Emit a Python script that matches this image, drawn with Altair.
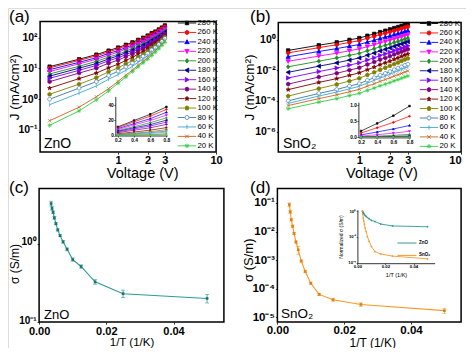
import math
import altair as alt
import pandas as pd

# ---------------------------------------------------------------- data
TEMPS = [280, 260, 240, 220, 200, 180, 160, 140, 120, 100, 80, 60, 40, 20]
VOLTS = [0.2, 0.4, 0.6, 0.8, 1.0, 1.2, 1.4, 1.6, 1.8, 2.0, 2.2, 2.4, 2.6, 2.8, 3.0]

# (a) ZnO: log10 of J (mA/cm^2) at each voltage, one list per temperature
ZNO_280 = [1.06, 1.30, 1.45, 1.58, 1.68, 1.77, 1.85, 1.93, 2.00, 2.07, 2.15, 2.20, 2.27, 2.33, 2.40]
ZNO_260 = [1.02, 1.26, 1.41, 1.54, 1.64, 1.73, 1.81, 1.89, 1.96, 2.03, 2.11, 2.16, 2.23, 2.29, 2.36]
ZNO_240 = [0.96, 1.20, 1.35, 1.49, 1.58, 1.68, 1.76, 1.84, 1.91, 1.97, 2.05, 2.11, 2.18, 2.24, 2.31]
ZNO_220 = [0.90, 1.15, 1.30, 1.43, 1.53, 1.63, 1.71, 1.79, 1.86, 1.93, 2.01, 2.06, 2.13, 2.20, 2.27]
ZNO_200 = [0.82, 1.07, 1.23, 1.37, 1.46, 1.56, 1.65, 1.73, 1.80, 1.87, 1.95, 2.01, 2.08, 2.15, 2.22]
ZNO_180 = [0.75, 1.01, 1.16, 1.31, 1.41, 1.51, 1.59, 1.68, 1.75, 1.82, 1.91, 1.97, 2.04, 2.11, 2.18]
ZNO_160 = [0.68, 0.94, 1.10, 1.25, 1.35, 1.45, 1.54, 1.63, 1.70, 1.78, 1.86, 1.92, 1.99, 2.07, 2.14]
ZNO_140 = [0.57, 0.85, 1.01, 1.17, 1.27, 1.38, 1.47, 1.56, 1.64, 1.72, 1.81, 1.87, 1.95, 2.02, 2.10]
ZNO_120 = [0.36, 0.67, 0.85, 1.02, 1.14, 1.26, 1.36, 1.47, 1.55, 1.64, 1.74, 1.81, 1.89, 1.98, 2.06]
ZNO_100 = [0.16, 0.49, 0.70, 0.89, 1.02, 1.15, 1.26, 1.37, 1.46, 1.56, 1.67, 1.74, 1.83, 1.93, 2.02]
ZNO_80 = [0.00, 0.36, 0.57, 0.77, 0.91, 1.05, 1.17, 1.29, 1.39, 1.49, 1.60, 1.68, 1.78, 1.88, 1.98]
ZNO_60 = [-0.18, 0.20, 0.43, 0.65, 0.80, 0.94, 1.07, 1.20, 1.30, 1.41, 1.54, 1.62, 1.73, 1.83, 1.94]
ZNO_40 = [-0.70, -0.26, 0.08, 0.34, 0.58, 0.78, 0.95, 1.10, 1.23, 1.35, 1.47, 1.58, 1.68, 1.79, 1.89]
ZNO_20 = [-0.85, -0.38, -0.02, 0.27, 0.52, 0.72, 0.90, 1.05, 1.18, 1.30, 1.42, 1.53, 1.64, 1.75, 1.85]

# (b) SnO2: log10 of J (mA/cm^2)
SNO2_280 = [-0.70, -0.36, -0.17, -0.01, 0.11, 0.26, 0.38, 0.50, 0.59, 0.68, 0.76, 0.83, 0.90, 0.97, 1.02]
SNO2_260 = [-0.86, -0.52, -0.33, -0.18, -0.06, 0.10, 0.22, 0.34, 0.42, 0.51, 0.59, 0.66, 0.73, 0.80, 0.85]
SNO2_240 = [-1.11, -0.77, -0.58, -0.43, -0.31, -0.16, -0.04, 0.08, 0.17, 0.25, 0.34, 0.40, 0.47, 0.54, 0.59]
SNO2_220 = [-1.41, -1.07, -0.88, -0.72, -0.60, -0.45, -0.33, -0.21, -0.12, -0.03, 0.05, 0.12, 0.19, 0.26, 0.31]
SNO2_200 = [-1.77, -1.40, -1.19, -1.02, -0.89, -0.72, -0.59, -0.46, -0.37, -0.27, -0.18, -0.11, -0.03, 0.04, 0.10]
SNO2_180 = [-2.13, -1.73, -1.51, -1.33, -1.19, -1.01, -0.87, -0.73, -0.63, -0.53, -0.43, -0.35, -0.27, -0.19, -0.13]
SNO2_160 = [-2.50, -2.08, -1.85, -1.66, -1.51, -1.32, -1.18, -1.03, -0.92, -0.82, -0.71, -0.63, -0.55, -0.46, -0.40]
SNO2_140 = [-2.90, -2.44, -2.19, -1.99, -1.83, -1.62, -1.46, -1.30, -1.19, -1.08, -0.96, -0.87, -0.78, -0.69, -0.62]
SNO2_120 = [-3.26, -2.79, -2.54, -2.33, -2.16, -1.96, -1.79, -1.63, -1.51, -1.40, -1.28, -1.19, -1.09, -1.00, -0.93]
SNO2_100 = [-3.68, -3.19, -2.92, -2.70, -2.52, -2.30, -2.13, -1.96, -1.83, -1.71, -1.59, -1.49, -1.39, -1.29, -1.22]
SNO2_80 = [-3.99, -3.51, -3.25, -3.03, -2.87, -2.65, -2.48, -2.32, -2.20, -2.08, -1.96, -1.86, -1.77, -1.67, -1.60]
SNO2_60 = [-4.16, -3.68, -3.42, -3.21, -3.04, -2.83, -2.66, -2.50, -2.38, -2.26, -2.14, -2.04, -1.95, -1.85, -1.78]
SNO2_40 = [-4.30, -3.85, -3.60, -3.40, -3.24, -3.03, -2.88, -2.72, -2.60, -2.49, -2.38, -2.29, -2.20, -2.11, -2.04]
SNO2_20 = [-4.51, -4.08, -3.85, -3.65, -3.50, -3.31, -3.16, -3.01, -2.90, -2.80, -2.69, -2.61, -2.52, -2.43, -2.37]

# (c), (d): conductivity (S/m) and error bars, in TEMPS order
SIGMA_ZNO = [3.23, 2.80, 2.50, 2.12, 1.79, 1.49, 1.26, 1.05, 0.845, 0.625, 0.51, 0.325, 0.23, 0.20]
SIGMA_ZNO_ERR = [0.22, 0.14, 0.10, 0.08, 0.06, 0.05, 0.04, 0.04, 0.035, 0.03, 0.025, 0.022, 0.025, 0.025]
SIGMA_SNO2 = [0.088, 0.049, 0.026, 0.0154, 0.0086, 0.0043, 0.0023, 9.3e-4, 4.0e-4, 1.55e-4, 6.3e-5, 4.1e-5, 2.8e-5, 1.7e-5]
SIGMA_SNO2_ERR = [0.012, 0.006, 0.003, 0.0015, 0.0008, 0.0004, 0.0007, 8e-5, 4e-5, 1.5e-5, 6e-6, 5e-6, 4e-6, 3.5e-6]

ZNO_LOGJ = [ZNO_280, ZNO_260, ZNO_240, ZNO_220, ZNO_200, ZNO_180, ZNO_160,
            ZNO_140, ZNO_120, ZNO_100, ZNO_80, ZNO_60, ZNO_40, ZNO_20]
SNO2_LOGJ = [SNO2_280, SNO2_260, SNO2_240, SNO2_220, SNO2_200, SNO2_180, SNO2_160,
             SNO2_140, SNO2_120, SNO2_100, SNO2_80, SNO2_60, SNO2_40, SNO2_20]
T_LABELS = [f"{t} K" for t in TEMPS]

# ---------------------------------------------------------------- style
FONT = "Liberation Sans"
W, H = 458, 340
COLORS = ["#000000", "#ff0000", "#0000ff", "#ff00ff", "#1f8f1f", "#000080", "#8000ff",
          "#800080", "#800000", "#808000", "#3a78b0", "#3fa6d3", "#c8641e", "#2fcf46"]
MARKERS = ["square", "circle", "tri_up", "tri_down", "diamond", "tri_left", "tri_right",
           "hexagon", "star", "pentagon", "open_circle", "bar", "cross_x", "asterisk"]
TEAL, TEAL_DARK = "#2a9c97", "#1f6f6b"
ORANGE, ORANGE_DARK = "#f59a2c", "#e07f12"


def _poly(pts, s):
    return "M" + "L".join(f"{x * s:.3f},{y * s:.3f}" for x, y in pts) + "Z"


def _circle(r):
    return f"M{r:.3f},0A{r:.3f},{r:.3f} 0 1 1 {-r:.3f},0A{r:.3f},{r:.3f} 0 1 1 {r:.3f},0Z"


STAR_PTS = [((1.0 if i % 2 == 0 else 0.42) * math.cos(-math.pi / 2 + i * math.pi / 5),
             (1.0 if i % 2 == 0 else 0.42) * math.sin(-math.pi / 2 + i * math.pi / 5)) for i in range(10)]
PENT_PTS = [(math.cos(-math.pi / 2 + i * 2 * math.pi / 5), math.sin(-math.pi / 2 + i * 2 * math.pi / 5)) for i in range(5)]
HEX_PTS = [(0.95 * math.cos(-math.pi / 2 + i * math.pi / 3), 0.95 * math.sin(-math.pi / 2 + i * math.pi / 3)) for i in range(6)]


def marker_path(kind, s):
    if kind == "square":
        return _poly([(-.8, -.8), (.8, -.8), (.8, .8), (-.8, .8)], s)
    if kind in ("circle", "open_circle"):
        return _circle(0.9 * s)
    if kind == "tri_up":
        return _poly([(0, -1), (1, .8), (-1, .8)], s)
    if kind == "tri_down":
        return _poly([(0, 1), (1, -.8), (-1, -.8)], s)
    if kind == "diamond":
        return _poly([(0, -1), (.8, 0), (0, 1), (-.8, 0)], s)
    if kind == "tri_left":
        return _poly([(-1, 0), (.8, -1), (.8, 1)], s)
    if kind == "tri_right":
        return _poly([(1, 0), (-.8, -1), (-.8, 1)], s)
    if kind == "hexagon":
        return _poly(HEX_PTS, s)
    if kind == "star":
        return _poly(STAR_PTS, s)
    if kind == "pentagon":
        return _poly(PENT_PTS, s)
    if kind == "bar":
        return f"M0,{-s:.3f}L0,{s:.3f}"
    if kind == "cross_x":
        a = 0.8 * s
        return f"M{-a:.3f},{-a:.3f}L{a:.3f},{a:.3f}M{-a:.3f},{a:.3f}L{a:.3f},{-a:.3f}"
    a, b = s, 0.7 * s
    return (f"M{-a:.3f},0L{a:.3f},0M0,{-a:.3f}L0,{a:.3f}"
            f"M{-b:.3f},{-b:.3f}L{b:.3f},{b:.3f}M{-b:.3f},{b:.3f}L{b:.3f},{-b:.3f}")


def legend_path(kind):
    if kind in ("bar", "cross_x", "asterisk"):
        line = "M-2.3,0L2.3,0"
    else:
        line = "M-2.3,0L-0.6,0M0.6,0L2.3,0"
    return line + marker_path(kind, 0.55)


def fill_of(kind, color):
    if kind == "open_circle":
        return "white"
    if kind in ("bar", "cross_x", "asterisk"):
        return "transparent"
    return color


FILLS = [fill_of(k, c) for k, c in zip(MARKERS, COLORS)]
PLOT_PATHS = [marker_path(k, 1.0) for k in MARKERS]
LEG_PATHS = [legend_path(k) for k in MARKERS]

SUP = {"-": "\u207b", "0": "\u2070", "1": "\u00b9", "2": "\u00b2", "3": "\u00b3", "4": "\u2074",
       "5": "\u2075", "6": "\u2076", "7": "\u2077", "8": "\u2078", "9": "\u2079"}


def pow_expr(exps):
    e = "round(log(datum.value) / LN10)"
    expr = "''"
    for k in exps:
        s = "10" + "".join(SUP[c] for c in str(k))
        expr = f"({e} == {k} ? '{s}' : {expr})"
    return expr


# ---------------------------------------------------------------- layout (chart px)
A_X, A_Y = (32.1, 208.1), (144.1, 13.4)
B_X, B_Y = (270.3, 453.1), (144.1, 14.4)
C_X, C_Y = (31.1, 215.9), (314.1, 180.6)
D_X, D_Y = (269.4, 453.1), (314.1, 180.6)
AI_X, AI_Y = (107.3, 159.2), (127.5, 88.4)
BI_X, BI_Y = (350.4, 402.3), (129.4, 94.1)
DI_X, DI_Y = (349.4, 426.6), (255.2, 201.7)

A_XD, A_YD = (0.16, 10), (10 ** -1.72, 10 ** 2.53)
B_XD, B_YD = (0.16, 10), (10 ** -7.34, 10 ** 1.13)
C_XD, C_YD = (0, 0.055), (0.1, 5)
D_XD, D_YD = (0, 0.055), (10 ** -5.17, 10 ** -0.496)
AI_XD, AI_YD = (0.168, 0.81), (0, 52)
BI_XD, BI_YD = (0.167, 0.81), (0, 1.1)
DI_XD, DI_YD = (0, 0.055), (10 ** -4.05, 10 ** 0.12)


def sc(dom, rng, log=False):
    if log:
        return alt.Scale(type="log", domain=list(dom), range=list(rng), nice=False)
    return alt.Scale(domain=list(dom), range=list(rng), nice=False, zero=False)


def ax_bottom(y_axis, values, size, title=None, tx=0, ty=0, tsize=12, expr=None, fmt=None,
              tick=2.0, pad=0.0, domain=False, tick_w=0.8, flush=False):
    kw = dict(orient="bottom", offset=y_axis - H, values=values, grid=False, domain=domain,
              domainColor="black", domainWidth=0.8, ticks=True, tickSize=tick, tickColor="black",
              tickWidth=tick_w, labelFont=FONT, labelFontSize=size, labelFontWeight="bold",
              labelColor="black", labelPadding=pad, labelOverlap=False, labelFlush=flush)
    if expr:
        kw["labelExpr"] = expr
    if fmt:
        kw["format"] = fmt
    if title:
        kw.update(title=title, titleFont=FONT, titleFontSize=tsize, titleFontWeight="normal",
                  titleColor="black", titleX=tx, titleY=ty - y_axis, titleAlign="center",
                  titleBaseline="middle", titleAngle=0)
    else:
        kw["title"] = None
    return alt.Axis(**kw)


def ax_left(x_axis, values, size, title=None, tx=0, ty=0, tsize=12, expr=None, fmt=None,
            tick=2.0, pad=1.0, domain=False, tick_w=0.8, loff=0.0):
    kw = dict(orient="left", offset=-x_axis, values=values, grid=False, domain=domain,
              domainColor="black", domainWidth=0.8, ticks=True, tickSize=tick, tickColor="black",
              tickWidth=tick_w, labelFont=FONT, labelFontSize=size, labelFontWeight="bold",
              labelColor="black", labelPadding=pad, labelOverlap=False, labelFlush=False,
              labelOffset=loff)
    if expr:
        kw["labelExpr"] = expr
    if fmt:
        kw["format"] = fmt
    if title:
        kw.update(title=title, titleFont=FONT, titleFontSize=tsize, titleFontWeight="normal",
                  titleColor="black", titleX=tx - x_axis, titleY=ty, titleAlign="center",
                  titleBaseline="middle", titleAngle=270)
    else:
        kw["title"] = None
    return alt.Axis(**kw)


ONE = pd.DataFrame({"k": [0]})


def text_layer(txt, x, y, size, weight="normal"):
    return alt.Chart(ONE).mark_text(text=txt, font=FONT, fontSize=size, fontWeight=weight,
                                    align="left", baseline="alphabetic", color="black"
                                    ).encode(x=alt.value(x), y=alt.value(y))


def frame_layer(xr, yr, width=1.5):
    return alt.Chart(ONE).mark_rect(fillOpacity=0, stroke="black", strokeWidth=width).encode(
        x=alt.value(xr[0]), x2=alt.value(xr[1]), y=alt.value(yr[1]), y2=alt.value(yr[0]))


def color_scale():
    return alt.Scale(domain=T_LABELS, range=COLORS)


def jv_frame(logs):
    rows = []
    for lab, arr in zip(T_LABELS, logs):
        for v, lj in zip(VOLTS, arr):
            rows.append({"T": lab, "V": v, "J": 10 ** lj})
    return pd.DataFrame(rows)


def jv_layers(df, xr, yr, xd, yd, log, xaxis, yaxis, psize, legend=None, lw=0.9):
    def X(ax):
        return alt.X("V:Q", scale=sc(xd, xr, log), axis=ax)

    def Y(ax):
        return alt.Y("J:Q", scale=sc(yd, yr, log), axis=ax)

    lines = alt.Chart(df).mark_line(strokeWidth=lw).encode(
        x=X(xaxis), y=Y(yaxis), color=alt.Color("T:N", scale=color_scale(), legend=None))
    pts = alt.Chart(df).mark_point(size=psize, strokeWidth=0.7, opacity=1).encode(
        x=X(None), y=Y(None),
        shape=alt.Shape("T:N", scale=alt.Scale(domain=T_LABELS, range=PLOT_PATHS), legend=None),
        fill=alt.Fill("T:N", scale=alt.Scale(domain=T_LABELS, range=FILLS), legend=None),
        stroke=alt.Stroke("T:N", scale=color_scale(), legend=None))
    out = [lines, pts]
    if legend is not None:
        leg_df = pd.DataFrame({"TL": T_LABELS, "V": [1.0] * len(T_LABELS), "J": [1e-30] * len(T_LABELS)})
        leg = alt.Chart(leg_df).mark_point(clip=True, opacity=1, strokeWidth=0.9).encode(
            x=X(None), y=Y(None),
            shape=alt.Shape("TL:N", scale=alt.Scale(domain=T_LABELS, range=LEG_PATHS), legend=legend),
            fill=alt.Fill("TL:N", scale=alt.Scale(domain=T_LABELS, range=FILLS), legend=legend),
            stroke=alt.Stroke("TL:N", scale=color_scale(), legend=legend))
        out.append(leg)
    return out


def jv_legend(x, y):
    return alt.Legend(orient="none", legendX=x, legendY=y, title=None, labelFont=FONT,
                      labelFontSize=7.8, labelColor="black", symbolSize=64, symbolStrokeWidth=0.9,
                      labelOffset=6, rowPadding=0.45, padding=0, labelLimit=80)


def sigma_layers(sig, err, xr, yr, xd, yd, color, dark, xaxis, yaxis):
    df = pd.DataFrame({"x": [1.0 / t for t in TEMPS], "s": sig,
                       "lo": [s - e for s, e in zip(sig, err)], "hi": [s + e for s, e in zip(sig, err)]})

    def X(ax):
        return alt.X("x:Q", scale=sc(xd, xr), axis=ax)

    def Y(f, ax):
        return alt.Y(f"{f}:Q", scale=sc(yd, yr, True), axis=ax)

    line = alt.Chart(df).mark_line(color=color, strokeWidth=1.1).encode(x=X(xaxis), y=Y("s", yaxis))
    bars = alt.Chart(df).mark_rule(color=color, strokeWidth=0.8).encode(
        x=X(None), y=Y("lo", None), y2="hi:Q")
    cap_lo = alt.Chart(df).mark_tick(orient="horizontal", size=4, thickness=0.8, color=color).encode(
        x=X(None), y=Y("lo", None))
    cap_hi = alt.Chart(df).mark_tick(orient="horizontal", size=4, thickness=0.8, color=color).encode(
        x=X(None), y=Y("hi", None))
    pts = alt.Chart(df).mark_point(shape="square", filled=True, size=7, color=dark, opacity=1).encode(
        x=X(None), y=Y("s", None))
    return [line, bars, cap_lo, cap_hi, pts]


# ---------------------------------------------------------------- panels
dfa = jv_frame(ZNO_LOGJ)
dfb = jv_frame(SNO2_LOGJ)

layers = []

# (a)
layers += jv_layers(
    dfa, A_X, A_Y, A_XD, A_YD, True,
    ax_bottom(A_Y[0], [1, 2, 3, 10], 11, "Voltage (V)", 134.2, 165.5, 14.5),
    ax_left(A_X[0], [0.1, 1, 10, 100], 10.5, "J (mA/cm\u00b2)", 6.5, 78.8, 13.5,
            expr=pow_expr([-1, 0, 1, 2])),
    18, jv_legend(174.5, 10.5))
layers += jv_layers(
    dfa[dfa["V"] <= 0.8], AI_X, AI_Y, AI_XD, AI_YD, False,
    ax_bottom(AI_Y[0], [0.2, 0.4, 0.6, 0.8], 4.8, fmt=".1f", tick=1.5, pad=0.5, domain=True, tick_w=0.6),
    ax_left(AI_X[0], [0, 20, 40], 4.8, tick=1.5, pad=0.5, domain=True, tick_w=0.6),
    4, lw=0.7)
layers.append(frame_layer(A_X, A_Y))

# (b)
layers += jv_layers(
    dfb, B_X, B_Y, B_XD, B_YD, True,
    ax_bottom(B_Y[0], [1, 2, 3, 10], 11, "Voltage (V)", 373.4, 165.5, 14.5, flush=True),
    ax_left(B_X[0], [1e-6, 1e-4, 1e-2, 1], 10.5, "J (mA/cm\u00b2)", 241.5, 79.0, 13.5,
            expr=pow_expr([-6, -4, -2, 0])),
    18, jv_legend(416.5, 11.0))
layers += jv_layers(
    dfb[dfb["V"] <= 0.8], BI_X, BI_Y, BI_XD, BI_YD, False,
    ax_bottom(BI_Y[0], [0.2, 0.4, 0.6, 0.8], 4.8, fmt=".1f", tick=1.5, pad=0.5, domain=True, tick_w=0.6),
    ax_left(BI_X[0], [0, 0.5, 1.0], 4.8, fmt=".1f", tick=1.5, pad=0.5, domain=True, tick_w=0.6),
    4, lw=0.7)
layers.append(frame_layer(B_X, B_Y))

# (c)
layers += sigma_layers(
    SIGMA_ZNO, SIGMA_ZNO_ERR, C_X, C_Y, C_XD, C_YD, TEAL, TEAL_DARK,
    ax_bottom(C_Y[0], [0, 0.02, 0.04], 11, "1/T (1/K)", 123.5, 334.3, 11.5, fmt=".2f", pad=1),
    ax_left(C_X[0], [0.1, 1], 10, "\u03c3 (S/m)", 7.0, 255.5, 12, expr=pow_expr([-1, 0]), loff=-2))
layers.append(frame_layer(C_X, C_Y))

# (d)
layers += sigma_layers(
    SIGMA_SNO2, SIGMA_SNO2_ERR, D_X, D_Y, D_XD, D_YD, ORANGE, ORANGE_DARK,
    ax_bottom(D_Y[0], [0, 0.02, 0.04], 11.5, "1/T (1/K)", 364.2, 334.0, 12, fmt=".2f", pad=0.5),
    ax_left(D_X[0], [1e-5, 1e-4, 1e-3, 1e-2, 1e-1], 11.5, "\u03c3 (S/m)", 240.0, 251.7, 13,
            expr=pow_expr([-5, -4, -3, -2, -1])))
layers.append(frame_layer(D_X, D_Y))

# (d) inset: normalized conductivity
MATS = ["ZnO", "SnO\u2082"]
dfi = pd.DataFrame({
    "x": [1.0 / t for t in TEMPS] * 2,
    "n": [s / SIGMA_ZNO[0] for s in SIGMA_ZNO] + [s / SIGMA_SNO2[0] for s in SIGMA_SNO2],
    "m": [MATS[0]] * len(TEMPS) + [MATS[1]] * len(TEMPS),
})
mat_scale = alt.Scale(domain=MATS, range=[TEAL, ORANGE])
ix = alt.X("x:Q", scale=sc(DI_XD, DI_X),
           axis=ax_bottom(DI_Y[0], [0, 0.02, 0.04], 4.3, "1/T (1/K)", 388.0, 266.0, 5.5, fmt=".2f",
                          tick=1.2, pad=0.3, domain=True, tick_w=0.6))
iy = alt.Y("n:Q", scale=sc(DI_YD, DI_Y, True),
           axis=ax_left(DI_X[0], [1e-4, 1e-2, 1], 4.3, "Normalized \u03c3 (S/m)", 332.5, 228.5, 5,
                        expr=pow_expr([-4, -2, 0]), tick=1.2, pad=0.5, domain=True, tick_w=0.6))
layers.append(alt.Chart(dfi).mark_line(strokeWidth=0.9).encode(
    x=ix, y=iy,
    color=alt.Color("m:N", scale=mat_scale,
                    legend=alt.Legend(orient="none", legendX=389, legendY=225, title=None,
                                      labelFont=FONT, labelFontSize=4.5, labelFontWeight="bold",
                                      labelColor="black", symbolSize=361, symbolStrokeWidth=1,
                                      labelOffset=2, rowPadding=0.4, padding=0))))
layers.append(alt.Chart(dfi).mark_point(filled=True, size=3, opacity=1).encode(
    x=alt.X("x:Q", scale=sc(DI_XD, DI_X), axis=None),
    y=alt.Y("n:Q", scale=sc(DI_YD, DI_Y, True), axis=None),
    color=alt.Color("m:N", scale=mat_scale, legend=None)))

# annotations
layers += [
    text_layer("(a)", 1, 14.0, 17),
    text_layer("(b)", 242, 14.0, 17),
    text_layer("(c)", 1, 185.4, 17),
    text_layer("(d)", 242, 185.4, 17),
    text_layer("ZnO", 36, 140.2, 14),
    text_layer("SnO\u2082", 275, 140.2, 14),
    text_layer("ZnO", 36, 311.2, 13),
    text_layer("SnO\u2082", 273, 310.2, 13.5),
]

chart = alt.layer(*layers).resolve_scale(
    x="independent", y="independent", color="independent", fill="independent",
    stroke="independent", shape="independent"
).resolve_axis(x="independent", y="independent").resolve_legend(
    color="independent", fill="independent", stroke="independent", shape="independent"
).properties(
    width=W, height=H, padding=0, autosize=alt.AutoSizeParams(type="none")
).configure_view(stroke=None).configure(background="white", font=FONT)

chart.save("out.html", embed_options={"renderer": "svg", "actions": False})
